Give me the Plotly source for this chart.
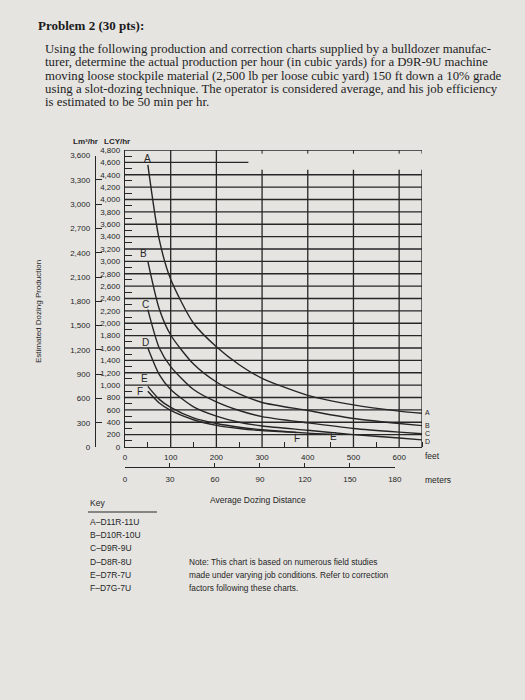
import plotly.graph_objects as go

# ---------------- data ----------------
FT = [50, 75, 100, 150, 200, 250, 300, 400, 500, 600, 650]
A_LCY = [4560, 3350, 2710, 2000, 1620, 1330, 1110, 835, 680, 580, 545]
B_LCY = [3000, 2230, 1810, 1340, 1050, 860, 720, 590, 460, 380, 345]
C_LCY = [2220, 1600, 1300, 930, 730, 590, 490, 390, 300, 240, 215]
D_LCY = [1600, 1170, 930, 650, 500, 400, 340, 270, 200, 145, 115]
E_FT = [50, 75, 100, 150, 200, 250, 300, 400, 450]
E_LCY = [980, 770, 640, 470, 380, 320, 280, 225, 205]
F_FT = [50, 75, 100, 150, 200, 250, 300, 375]
F_LCY = [900, 710, 590, 440, 350, 300, 265, 235]

SERIES = ["A", "B", "C", "D", "E", "F"]
KEY = ["A–D11R-11U", "B–D10R-10U", "C–D9R-9U", "D–D8R-8U", "E–D7R-7U", "F–D7G-7U"]

LCY_TICKS = list(range(0, 4801, 200))
LCY_MINOR = list(range(100, 4800, 200))
M3_TICKS = list(range(0, 3601, 300))
FT_TICKS = list(range(0, 601, 100))
FT_MINOR = list(range(50, 651, 100))
M_TICKS = list(range(0, 181, 30))

PARAGRAPH = [
    "Using the following production and correction charts supplied by a bulldozer manufac-",
    "turer, determine the actual production per hour (in cubic yards) for a D9R-9U machine",
    "moving loose stockpile material (2,500 lb per loose cubic yard) 150 ft down a 10% grade",
    "using a slot-dozing technique. The operator is considered average, and his job efficiency",
    "is estimated to be 50 min per hr.",
]
NOTE = [
    "Note: This chart is based on numerous field studies",
    "made under varying job conditions. Refer to correction",
    "factors following these charts.",
]

# ---------------- geometry ----------------
W, H = 525, 700
PX_L, PX_R, PX_T, PX_B = 125, 422, 150, 447
AX_M3_X = 95
AX_M_Y = 467
ml, mr, mt, mb = AX_M3_X, W - PX_R, PX_T, H - AX_M_Y
pw, ph = W - ml - mr, H - mt - mb


def px(xp):
    return (xp - ml) / pw


def py(yp):
    return (H - mb - yp) / ph


X_MAX, Y_MAX = 650, 4800
M3_PER_LCY = 0.7646
FT_PER_M = 1 / 0.3048
xd0, yd0 = px(PX_L), py(PX_B)
xd_m = xd0 + (1 - xd0) * (180 * FT_PER_M) / X_MAX
yd_m3 = yd0 + (1 - yd0) * (3600 / M3_PER_LCY) / Y_MAX

INK = "#262626"
BG = "#e5e4e1"
SANS = "Liberation Sans"
SERIF = "Liberation Serif"

fig = go.Figure()
curve_x = [FT, FT, FT, FT, E_FT, F_FT]
curve_y = [A_LCY, B_LCY, C_LCY, D_LCY, E_LCY, F_LCY]
for name, xs, ys in zip(SERIES, curve_x, curve_y):
    fig.add_trace(go.Scatter(x=xs, y=ys, mode="lines", name=name,
                             line=dict(color=INK, width=1.4, shape="spline", smoothing=0.7),
                             hoverinfo="skip", showlegend=False))
# helper traces so the secondary scales are drawn
fig.add_trace(go.Scatter(x=[0], y=[0], xaxis="x2", yaxis="y", mode="markers",
                         marker=dict(opacity=0), hoverinfo="skip", showlegend=False))
fig.add_trace(go.Scatter(x=[0], y=[0], xaxis="x", yaxis="y2", mode="markers",
                         marker=dict(opacity=0), hoverinfo="skip", showlegend=False))

shapes = []
lw = 1.3
# horizontal grid lines
for v in LCY_TICKS[1:-2]:
    shapes.append(dict(type="line", xref="x", yref="y", x0=0, x1=X_MAX, y0=v, y1=v,
                       line=dict(color=INK, width=lw), layer="below"))
shapes.append(dict(type="line", xref="x", yref="y", x0=0, x1=270, y0=LCY_TICKS[-2], y1=LCY_TICKS[-2],
                   line=dict(color=INK, width=lw), layer="below"))
shapes.append(dict(type="line", xref="x", yref="y", x0=0, x1=X_MAX, y0=Y_MAX, y1=Y_MAX,
                   line=dict(color=INK, width=lw), layer="below"))
# vertical grid lines
for v in FT_TICKS[1:] + [X_MAX]:
    top = Y_MAX if v <= 200 else 4480
    shapes.append(dict(type="line", xref="x", yref="y", x0=v, x1=v, y0=0, y1=top,
                       line=dict(color=INK, width=lw), layer="below"))
    if v > 200:
        shapes.append(dict(type="line", xref="x", yref="y", x0=v, x1=v, y0=Y_MAX, y1=Y_MAX - 60,
                           line=dict(color=INK, width=1), layer="below"))
# key underline
shapes.append(dict(type="line", xref="paper", yref="paper", x0=px(88), x1=px(157), y0=py(512), y1=py(512),
                   line=dict(color=INK, width=1)))

ann = []


def text(xp, yp, s, size, font=SANS, anchor="left", bold=False, angle=0, color=INK):
    if bold:
        s = "<b>" + s + "</b>"
    ann.append(dict(xref="paper", yref="paper", x=px(xp), y=py(yp), text=s, showarrow=False,
                    xanchor=anchor, yanchor="middle", textangle=angle, borderpad=0,
                    font=dict(family=font, size=size, color=color)))


text(37, 25, "Problem 2 (30 pts):", 13, SERIF, bold=True, color="#1a1a1a")
for i, line in enumerate(PARAGRAPH):
    text(44, 49 + i * 13.3, line, 12.8, SERIF, color="#1e1e1e")

text(72, 141, "Lm³/hr", 8, bold=True)
text(103, 141, "LCY/hr", 8, bold=True)
text(38, 312, "Estimated Dozing Production", 8, anchor="center", angle=-90)
text(424, 456, "feet", 8.5)
text(424, 480, "meters", 8.5)
text(258, 500, "Average Dozing Distance", 8.5, anchor="center")
text(89, 503, "Key", 8.5)
for i, k in enumerate(KEY):
    text(89, 522 + i * 13.2, k, 8.5)
for i, k in enumerate(NOTE):
    text(188, 562 + i * 13.2, k, 8.3)

# curve labels
left_pos = [(50, 4664), (40, 3120), (44, 2310), (44, 1690), (43, 1100), (33, 890)]
for name, (lx, ly) in zip(SERIES, left_pos):
    ann.append(dict(xref="x", yref="y", x=lx, y=ly, text=name, showarrow=False, borderpad=0,
                    xanchor="center", yanchor="middle", font=dict(family=SANS, size=10, color=INK)))
right_pos = [550, 345, 215, 85]
for name, ly in zip(SERIES[:4], right_pos):
    ann.append(dict(xref="x", yref="y", x=X_MAX, y=ly, text=name, showarrow=False, borderpad=0,
                    xanchor="left", yanchor="middle", xshift=2,
                    font=dict(family=SANS, size=7, color=INK)))
ann.append(dict(xref="x", yref="y", x=376, y=130, text="F", showarrow=False, borderpad=0,
                font=dict(family=SANS, size=10, color=INK)))
ann.append(dict(xref="x", yref="y", x=456, y=170, text="E", showarrow=False, borderpad=0,
                font=dict(family=SANS, size=10, color=INK)))

tickfont = dict(family=SANS, size=8, color=INK)
fig.update_layout(
    width=W, height=H, margin=dict(l=ml, r=mr, t=mt, b=mb),
    paper_bgcolor=BG, plot_bgcolor="rgba(0,0,0,0)", showlegend=False,
    xaxis=dict(domain=[xd0, 1], range=[0, X_MAX], anchor="y", showline=True, linecolor=INK, linewidth=1.4,
               tickmode="array", tickvals=FT_TICKS, ticks="", showgrid=False, zeroline=False,
               tickfont=tickfont, ticklabelstandoff=2,
               minor=dict(tickmode="array", tickvals=FT_MINOR, ticks="inside", ticklen=5,
                          tickcolor=INK, tickwidth=1, showgrid=False)),
    yaxis=dict(domain=[yd0, 1], range=[0, Y_MAX], anchor="x", showline=True, linecolor=INK, linewidth=1.4,
               tickmode="array", tickvals=LCY_TICKS, ticktext=[f"{v:,}" for v in LCY_TICKS],
               ticks="", showgrid=False, zeroline=False, tickfont=tickfont, ticklabelstandoff=2,
               minor=dict(tickmode="array", tickvals=LCY_MINOR, ticks="inside", ticklen=7,
                          tickcolor=INK, tickwidth=1, showgrid=False)),
    xaxis2=dict(domain=[xd0, xd_m], range=[0, 180], anchor="free", position=0, side="bottom",
                showline=True, linecolor=INK, linewidth=1.2, tickmode="array", tickvals=M_TICKS,
                ticks="inside", ticklen=4, tickcolor=INK, showgrid=False, zeroline=False,
                tickfont=tickfont, ticklabelstandoff=4),
    yaxis2=dict(domain=[yd0, yd_m3], range=[0, 3600], anchor="free", position=0, side="left",
                showline=True, linecolor=INK, linewidth=1.4, tickmode="array", tickvals=M3_TICKS,
                ticktext=[f"{v:,}" for v in M3_TICKS], ticks="inside", ticklen=6, tickcolor=INK,
                showgrid=False, zeroline=False, tickfont=tickfont, ticklabelstandoff=3),
    shapes=shapes, annotations=ann,
)

fig.write_html("out.html", config={"displayModeBar": False},
               post_script="document.body.style.margin='0';document.body.style.background='%s';" % BG)
